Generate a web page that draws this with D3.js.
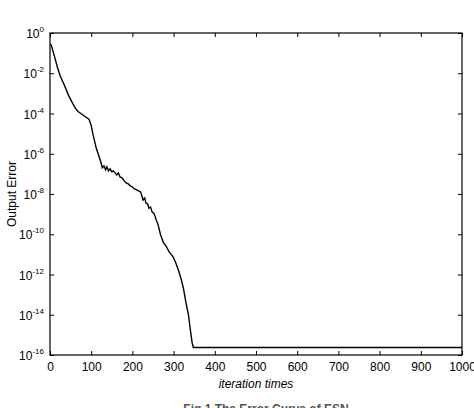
<!DOCTYPE html>
<html>
<head>
<meta charset="utf-8">
<script src="https://cdn.jsdelivr.net/npm/d3@7"></script>
<style>
  body { margin: 0; background: #fff; }
  svg { display: block; font-family: "Liberation Sans", Arial, sans-serif; }
</style>
</head>
<body>
<svg id="chart" width="474" height="408"></svg>
<script>
// iteration number and log10 of output error
const iterations = [0, 3, 10, 18, 25, 35, 45, 55, 62, 68, 75, 85, 95, 100, 105, 112, 120, 124, 127, 131, 135, 138, 142, 146, 150, 154, 158, 162, 166, 170, 175, 180, 185, 190, 195, 200, 205, 210, 215, 220, 223, 226, 230, 233, 237, 240, 244, 248, 252, 255, 258, 262, 268, 275, 282, 290, 298, 305, 312, 318, 324, 330, 336, 341, 345, 348, 1000];
const logError = [-0.55, -0.6, -1.1, -1.7, -2.15, -2.6, -3.1, -3.5, -3.75, -3.9, -4.0, -4.15, -4.3, -4.6, -5.1, -5.7, -6.2, -6.45, -6.7, -6.6, -6.8, -6.65, -6.85, -6.75, -6.9, -6.85, -6.95, -7.05, -6.95, -7.15, -7.2, -7.35, -7.45, -7.5, -7.6, -7.65, -7.75, -7.8, -7.85, -7.9, -8.1, -8.3, -8.2, -8.45, -8.5, -8.7, -8.65, -8.9, -8.95, -9.1, -9.3, -9.5, -10.0, -10.4, -10.6, -10.9, -11.1, -11.4, -11.8, -12.2, -12.7, -13.4, -14.0, -14.8, -15.4, -15.63, -15.63];
const xTicks = [0, 100, 200, 300, 400, 500, 600, 700, 800, 900, 1000];
const yExponents = [0, -2, -4, -6, -8, -10, -12, -14, -16];

const margin = { left: 50, right: 12, top: 33, bottom: 53 };
const width = 474, height = 408;
const svg = d3.select("#chart");

const x = d3.scaleLinear().domain([0, 1000]).range([margin.left, width - margin.right]);
const y = d3.scaleLog().domain([1e-16, 1]).range([height - margin.bottom, margin.top]);

const data = iterations.map((d, i) => ({ it: d, err: Math.pow(10, logError[i]) }));

// ticks on all four sides, pointing inward (matlab box)
svg.append("g")
  .attr("transform", `translate(0,${y(1e-16)})`)
  .call(d3.axisBottom(x).tickValues(xTicks).tickSize(-4).tickPadding(7).tickFormat(d3.format("d")))
  .call(g => g.select(".domain").remove())
  .selectAll("text").attr("font-size", 12).attr("fill", "#000");

svg.append("g")
  .attr("transform", `translate(0,${y(1)})`)
  .call(d3.axisTop(x).tickValues(xTicks).tickSize(-4).tickFormat(""))
  .call(g => g.select(".domain").remove());

const yAxis = svg.append("g")
  .attr("transform", `translate(${x(0)},0)`)
  .call(d3.axisLeft(y).tickValues(yExponents.map(e => Math.pow(10, e))).tickSize(-4).tickFormat(""))
  .call(g => g.select(".domain").remove());

svg.append("g")
  .attr("transform", `translate(${x(1000)},0)`)
  .call(d3.axisRight(y).tickValues(yExponents.map(e => Math.pow(10, e))).tickSize(-4).tickFormat(""))
  .call(g => g.select(".domain").remove());

svg.selectAll(".tick line").attr("stroke", "#000");

// y tick labels as 10 with superscript exponent
const yLab = svg.append("g").attr("font-size", 12).attr("fill", "#000");
yExponents.forEach(e => {
  const t = yLab.append("text")
    .attr("x", x(0) - 6)
    .attr("y", y(Math.pow(10, e)) + 5)
    .attr("text-anchor", "end");
  t.append("tspan").text("10");
  t.append("tspan").attr("dy", -6).attr("font-size", 8).text(e);
});

// plot box
svg.append("rect")
  .attr("x", x(0)).attr("y", y(1))
  .attr("width", x(1000) - x(0)).attr("height", y(1e-16) - y(1))
  .attr("fill", "none").attr("stroke", "#000").attr("stroke-width", 1.2);

const line = d3.line().x(d => x(d.it)).y(d => y(d.err));
svg.append("path")
  .datum(data)
  .attr("d", line)
  .attr("fill", "none")
  .attr("stroke", "#000")
  .attr("stroke-width", 1.4);

svg.append("text")
  .attr("transform", `translate(16,${(y(1) + y(1e-16)) / 2}) rotate(-90)`)
  .attr("text-anchor", "middle")
  .attr("font-size", 12)
  .text("Output Error");

svg.append("text")
  .attr("x", (x(0) + x(1000)) / 2)
  .attr("y", 388)
  .attr("text-anchor", "middle")
  .attr("font-size", 12)
  .attr("font-style", "italic")
  .text("iteration times");

svg.append("text")
  .attr("x", (x(0) + x(1000)) / 2 + 10)
  .attr("y", 413)
  .attr("text-anchor", "middle")
  .attr("font-size", 12)
  .attr("font-weight", "bold")
  .attr("fill", "#555")
  .text("Fig.1 The Error Curve of ESN");
</script>
</body>
</html>
